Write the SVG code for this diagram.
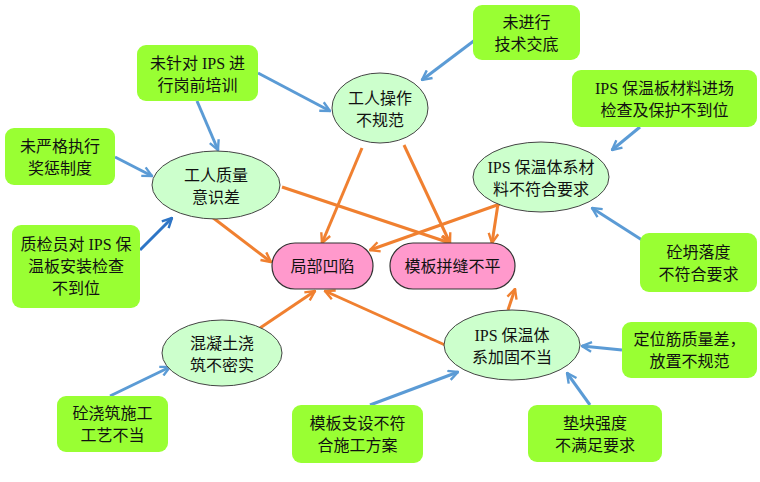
<svg xmlns="http://www.w3.org/2000/svg" width="760" height="482" viewBox="0 0 760 482">
<defs>
<style>
text{font-family:"Liberation Serif","Noto Sans CJK SC",serif;font-size:16px;fill:#111;text-anchor:middle}
.b{fill:#99ff33}
.e{fill:#ccffcc;stroke:#444;stroke-width:1}
.p{fill:#ff99cc;stroke:#333;stroke-width:1.2}
.bl{stroke:#5b9bd5;stroke-width:3;fill:none;marker-end:url(#ab)}
.db{stroke:#2e75c6;stroke-width:3;fill:none;marker-end:url(#adb)}
.or{stroke:#f08030;stroke-width:3;fill:none;marker-end:url(#ao)}
</style>
<marker id="ab" viewBox="0 0 10 10" refX="9" refY="5" markerWidth="4" markerHeight="4" orient="auto"><path d="M1,1 L9,5 L1,9" fill="none" stroke="#5b9bd5" stroke-width="2"/></marker>
<marker id="adb" viewBox="0 0 10 10" refX="9" refY="5" markerWidth="4" markerHeight="4" orient="auto"><path d="M1,1 L9,5 L1,9" fill="none" stroke="#2e75c6" stroke-width="2"/></marker>
<marker id="ao" viewBox="0 0 10 10" refX="9" refY="5" markerWidth="4" markerHeight="4" orient="auto"><path d="M1,1 L9,5 L1,9" fill="none" stroke="#f08030" stroke-width="2"/></marker>
</defs>
<rect width="760" height="482" fill="#fff"/>
<g id="connectors">
<path class="bl" d="M258,73 L330,111"/>
<path class="bl" d="M197,101 L218,150"/>
<path class="bl" d="M115,157 L152,176"/>
<path class="db" d="M140,250 L172,218"/>
<path class="bl" d="M475,40 L422,80"/>
<path class="bl" d="M640,127 L612,150"/>
<path class="bl" d="M642,240 L592,208"/>
<path class="bl" d="M622,350 L582,346"/>
<path class="bl" d="M590,405 L567,373"/>
<path class="bl" d="M370,405 L458,372"/>
<path class="bl" d="M110,396 L170,367"/>
<path class="or" d="M362,148 L322,243"/>
<path class="or" d="M404,145 L450,243"/>
<path class="or" d="M212,217 L271,262"/>
<path class="or" d="M282,187 L450,243"/>
<path class="or" d="M500,204 L370,250"/>
<path class="or" d="M498,204 L492,243"/>
<path class="or" d="M260,328 L315,291"/>
<path class="or" d="M445,345 L325,291"/>
<path class="or" d="M508,310 L515,289"/>
</g>
<g id="n1"><rect class="b" x="137" y="45" width="121" height="56" rx="9"/><text x="197.5" y="69">未针对 IPS 进</text><text x="197.5" y="91">行岗前培训</text></g>
<g id="n2"><rect class="b" x="473" y="5" width="107" height="55" rx="9"/><text x="526.5" y="28">未进行</text><text x="526.5" y="50">技术交底</text></g>
<g id="n3"><rect class="b" x="572" y="70" width="185" height="57" rx="9"/><text x="664.5" y="94">IPS 保温板材料进场</text><text x="664.5" y="116">检查及保护不到位</text></g>
<g id="n4"><rect class="b" x="5" y="128" width="110" height="57" rx="9"/><text x="60" y="152">未严格执行</text><text x="60" y="174">奖惩制度</text></g>
<g id="n5"><rect class="b" x="12" y="225" width="128" height="83" rx="9"/><text x="76" y="250">质检员对 IPS 保</text><text x="76" y="272">温板安装检查</text><text x="76" y="294">不到位</text></g>
<g id="n6"><rect class="b" x="640" y="233" width="117" height="59" rx="9"/><text x="698.5" y="258">砼坍落度</text><text x="698.5" y="280">不符合要求</text></g>
<g id="n7"><rect class="b" x="622" y="322" width="135" height="56" rx="9"/><text x="689.5" y="345">定位筋质量差，</text><text x="689.5" y="367">放置不规范</text></g>
<g id="n8"><rect class="b" x="57" y="396" width="111" height="56" rx="9"/><text x="112.5" y="419">砼浇筑施工</text><text x="112.5" y="441">工艺不当</text></g>
<g id="n9"><rect class="b" x="292" y="405" width="131" height="58" rx="9"/><text x="357.5" y="429">模板支设不符</text><text x="357.5" y="451">合施工方案</text></g>
<g id="n10"><rect class="b" x="528" y="405" width="134" height="57" rx="9"/><text x="595" y="429">垫块强度</text><text x="595" y="451">不满足要求</text></g>
<g id="e1"><ellipse class="e" cx="380" cy="108" rx="48" ry="35"/><text x="380" y="104">工人操作</text><text x="380" y="126">不规范</text></g>
<g id="e2"><ellipse class="e" cx="541" cy="177" rx="68" ry="35"/><text x="541" y="173">IPS 保温体系材</text><text x="541" y="195">料不符合要求</text></g>
<g id="e3"><ellipse class="e" cx="216" cy="185" rx="64" ry="34"/><text x="216" y="181">工人质量</text><text x="216" y="203">意识差</text></g>
<g id="e4"><ellipse class="e" cx="222" cy="353" rx="60" ry="33"/><text x="222" y="349">混凝土浇</text><text x="222" y="371">筑不密实</text></g>
<g id="e5"><ellipse class="e" cx="512" cy="345" rx="68" ry="35"/><text x="512" y="341">IPS 保温体</text><text x="512" y="363">系加固不当</text></g>
<g id="p1"><rect class="p" x="272" y="243" width="101" height="46" rx="23"/><text x="322.5" y="272">局部凹陷</text></g>
<g id="p2"><rect class="p" x="390" y="243" width="125" height="46" rx="23"/><text x="452.5" y="272">模板拼缝不平</text></g>
</svg>
